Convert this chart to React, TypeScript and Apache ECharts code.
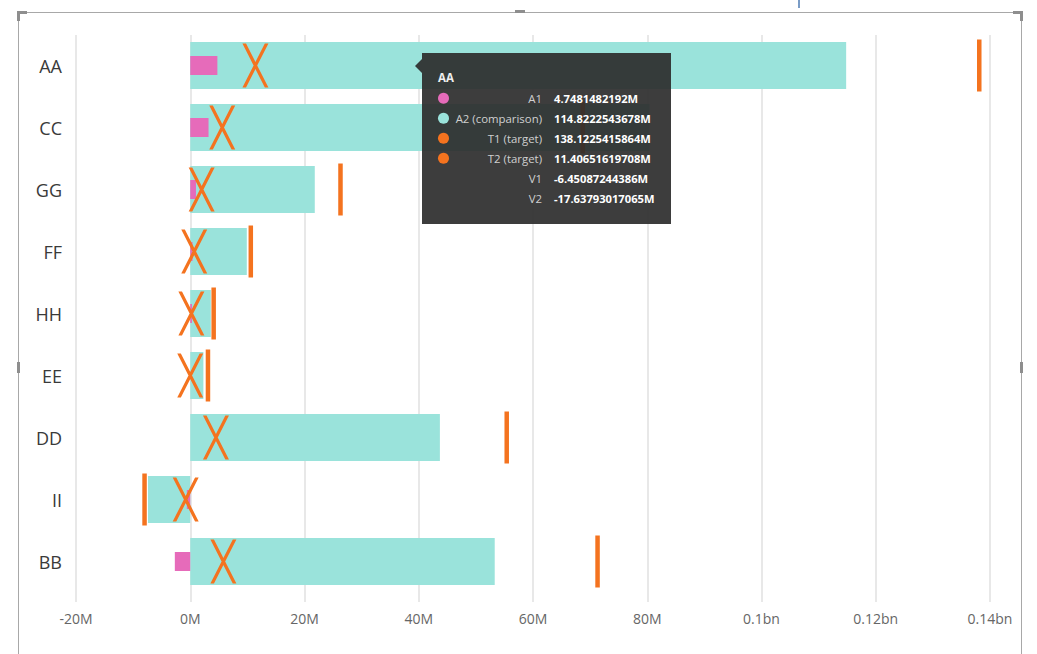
import React, { useEffect, useRef } from "react";
import * as echarts from "echarts";

const categories = ["AA", "CC", "GG", "FF", "HH", "EE", "DD", "II", "BB"];
// values in millions
const a2Comparison = [114.82, 80.4, 21.8, 9.9, 3.6, 2.3, 43.7, -7.4, 53.3];
const a1Values = [4.75, 3.2, 1.0, 0.4, 0.3, 0, 0, -0.6, -2.7];
const t1Target = [138.12, 68.7, 26.3, 10.6, 4.1, 3.1, 55.4, -8.0, 71.3];
const t2Target = [11.41, 5.6, 2.0, 0.7, 0.2, 0.0, 4.5, -0.8, 5.8];
const xMin = -20;
const xMax = 140;
const xInterval = 20;

const PINK = "#E66BBA";
const CYAN = "#9AE3DB";
const ORANGE = "#F4731F";

const tooltipTitle = "AA";
const tooltipLabels = ["A1", "A2 (comparison)", "T1 (target)", "T2 (target)", "V1", "V2"];
const tooltipValues = [
  "4.7481482192M",
  "114.8222543678M",
  "138.1225415864M",
  "11.40651619708M",
  "-6.45087244386M",
  "-17.63793017065M",
];
const tooltipDots = [PINK, CYAN, ORANGE, ORANGE, null, null];

const FONT = "'Segoe UI', 'Open Sans', 'Noto Sans', sans-serif";

const X_PATH =
  "path://M0,0 L3.6,0 L26,44 L22.4,44 Z M22.4,0 L26,0 L3.6,44 L0,44 Z";

function fmt(v: number) {
  if (v >= 100) return `${+(v / 1000).toFixed(2)}bn`;
  return `${v}M`;
}

function buildTooltip() {
  const left = 422;
  const top = 53;
  const w = 249;
  const h = 171;
  const Z = 1000;
  const els: any[] = [
    {
      type: "rect",
      z: Z,
      shape: { x: left, y: top, width: w, height: h },
      style: { fill: "rgba(44,44,44,0.92)" },
    },
    {
      type: "polygon",
      z: Z,
      shape: { points: [[415, 66], [422, 59], [422, 73]] },
      style: { fill: "rgba(44,44,44,0.92)" },
    },
    {
      type: "text",
      z: Z + 1,
      x: 438,
      y: 77.5,
      style: {
        text: tooltipTitle,
        fill: "#eeeeee",
        font: `bold 11.5px ${FONT}`,
        textVerticalAlign: "middle",
      },
    },
  ];
  tooltipLabels.forEach((lab, i) => {
    const y = 98.3 + i * 20;
    const c = tooltipDots[i];
    if (c) {
      els.push({
        type: "circle",
        z: Z + 1,
        shape: { cx: 443.5, cy: y, r: 5.5 },
        style: { fill: c },
      });
    }
    els.push({
      type: "text",
      z: Z + 1,
      x: 542,
      y,
      style: {
        text: lab,
        fill: "#d0d0d0",
        font: `11.4px ${FONT}`,
        textAlign: "right",
        textVerticalAlign: "middle",
      },
    });
    els.push({
      type: "text",
      z: Z + 1,
      x: 554,
      y,
      style: {
        text: tooltipValues[i],
        fill: "#ffffff",
        font: `bold 11.2px ${FONT}`,
        textAlign: "left",
        textVerticalAlign: "middle",
      },
    });
  });
  return els;
}

export default function App() {
  const ref = useRef<HTMLDivElement>(null);
  useEffect(() => {
    if (!ref.current) return;
    const chart = echarts.init(ref.current, undefined, { renderer: "svg" });
    const xBase = {
      type: "value",
      min: xMin,
      max: xMax,
      interval: xInterval,
      axisLine: { show: false },
      axisTick: { show: false },
    };
    chart.setOption({
      animation: false,
      textStyle: { fontFamily: FONT },
      grid: [
        { left: 76, right: 47, top: 34.5, bottom: 61.5 },
        { left: 76, right: 47, top: 35, bottom: 52 },
      ],
      xAxis: [
        {
          ...xBase,
          gridIndex: 0,
          axisLabel: { show: false },
          splitLine: { show: false },
        },
        {
          ...xBase,
          gridIndex: 1,
          axisLabel: {
            color: "#666666",
            fontSize: 14,
            margin: 9,
            fontFamily: FONT,
            formatter: (v: number) => fmt(v),
          },
          splitLine: { show: true, lineStyle: { color: "#e8e8e8", width: 2 } },
        },
      ],
      yAxis: [
        {
          type: "category",
          gridIndex: 0,
          data: categories,
          inverse: true,
          axisLine: { show: false },
          axisTick: { show: false },
          splitLine: { show: false },
          axisLabel: {
            color: "#3a3a3a",
            fontSize: 18,
            margin: 14,
            fontFamily: FONT,
            padding: [6, 0, 0, 0],
          },
        },
        {
          type: "category",
          gridIndex: 0,
          data: categories,
          inverse: true,
          show: false,
        },
        {
          type: "value",
          gridIndex: 1,
          show: false,
          min: 0,
          max: 1,
        },
      ],
      series: [
        {
          name: "A2 (comparison)",
          type: "bar",
          xAxisIndex: 0,
          yAxisIndex: 0,
          data: a2Comparison,
          barWidth: 47,
          itemStyle: { color: CYAN },
          silent: true,
          z: 2,
        },
        {
          name: "A1",
          type: "bar",
          xAxisIndex: 0,
          yAxisIndex: 1,
          data: a1Values,
          barWidth: 19,
          itemStyle: { color: PINK },
          silent: true,
          z: 3,
        },
        {
          name: "T1 (target)",
          type: "scatter",
          xAxisIndex: 0,
          yAxisIndex: 0,
          data: t1Target.map((v, i) => [v, categories[i]]),
          symbol: "rect",
          symbolSize: [4.5, 52],
          itemStyle: { color: ORANGE, opacity: 1 },
          silent: true,
          z: 4,
        },
        {
          name: "T2 (target)",
          type: "scatter",
          xAxisIndex: 0,
          yAxisIndex: 0,
          data: t2Target.map((v, i) => [v, categories[i]]),
          symbol: X_PATH,
          symbolSize: [26, 44],
          itemStyle: { color: ORANGE, opacity: 1 },
          silent: true,
          z: 5,
        },
      ],
      graphic: buildTooltip(),
    });
    return () => chart.dispose();
  }, []);

  const handle = (l: number, t: number, w: number, h: number) => (
    <div
      style={{
        position: "absolute",
        left: l,
        top: t,
        width: w,
        height: h,
        background: "#8e8e8e",
      }}
    />
  );

  return (
    <div
      style={{
        position: "fixed",
        left: 0,
        top: 0,
        width: 1037,
        height: 654,
        overflow: "hidden",
        background: "#ffffff",
      }}
    >
      <div ref={ref} style={{ position: "absolute", left: 0, top: 0, width: 1037, height: 654 }} />
      <div
        style={{
          position: "absolute",
          left: 18,
          top: 12,
          width: 1004,
          height: 700,
          border: "1px solid #a8a8a8",
          pointerEvents: "none",
          boxSizing: "border-box",
        }}
      />
      {handle(17, 11, 10, 3)}
      {handle(17, 11, 3, 10)}
      {handle(1013, 11, 10, 3)}
      {handle(1020, 11, 3, 10)}
      {handle(515, 10, 10, 3)}
      {handle(17, 362, 3, 11)}
      {handle(1020, 362, 3, 11)}
      <div
        style={{
          position: "absolute",
          left: 798,
          top: 0,
          width: 2,
          height: 8,
          background: "#7a9cc6",
        }}
      />
    </div>
  );
}
